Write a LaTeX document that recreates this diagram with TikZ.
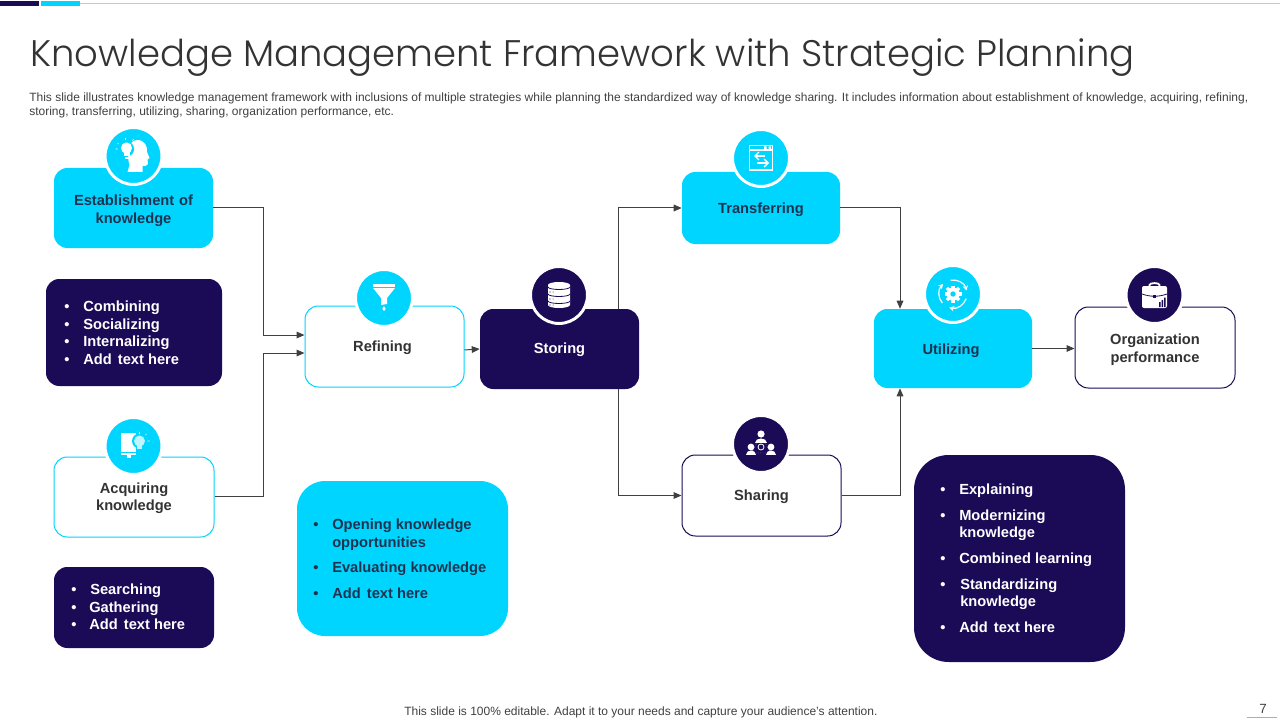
\documentclass[tikz,border=0pt]{standalone}
\usepackage{fontspec}
\setmainfont{Liberation Sans}
\newfontfamily\titlefont{Poppins Light}
\usetikzlibrary{arrows.meta,calc}
\definecolor{cy}{HTML}{00D5FF}
\definecolor{nv}{HTML}{1B0A56}
\definecolor{tx}{HTML}{1F3350}
\definecolor{gt}{HTML}{333333}
\definecolor{ln}{HTML}{404040}
\definecolor{pl}{HTML}{4FD5D5}
\newcommand{\sz}[1]{\fontsize{#1}{#1}\selectfont}
\newcommand{\bl}[1]{\makebox[#1][l]{\textbullet}}
\newcommand{\ad}{Add\hspace{4.6pt}text here}
\newcommand{\up}[1]{\rule{0pt}{#1pt}}
\tikzset{
 x=0.75pt,y=-0.75pt,
 boxbase/.style={rounded corners=#1,inner sep=0,align=center,font=\sz{11}\bfseries},
 cyanbox/.style={boxbase=10pt,fill=cy,text=tx},
 navybox/.style={boxbase=10pt,fill=nv,text=white},
 tealbox/.style={boxbase=10pt,draw=cy,line width=.75pt,fill=white,text=gt},
 inkbox/.style={boxbase=10pt,draw=nv,line width=.75pt,fill=white,text=gt},
 disc/.style={circle,inner sep=0,minimum size=42.7pt,draw=white,line width=2.2pt},
 conn/.style={draw=ln,line width=.75pt,-{Triangle[length=6pt,width=5pt]}},
 li/.style={anchor=base west,inner sep=0,font=\sz{11}\bfseries},
 ic/.style={fill=white,draw=none},
 small/.style={anchor=base west,inner sep=0,text=ln},
}
\newcommand{\bx}[7]{% style,name,x0,y0,x1,y1,text
 \path let \p1=(#3,#4),\p2=(#5,#6) in
 node[#1,minimum width=\x2-\x1,minimum height=\y1-\y2,text width=\x2-\x1] (#2) at ($(#3,#4)!.5!(#5,#6)$) {#7};}
\begin{document}
\begin{tikzpicture}
\useasboundingbox (0,0) rectangle (1280,720);
% top bars
\fill[nv] (0,1) rectangle (39,6);
\fill[cy] (41,1) rectangle (80,6);
\draw[draw=black!22,line width=.75pt] (80,3.5) -- (1280,3.5);
% title and description
\node[anchor=base west,inner sep=0,text=gt,font=\titlefont\sz{27.75}] (title) at (30,67) {Knowledge Management Framework with Strategic Planning};
\node[small,font=\sz{9}] (d1) at (29,102) {This slide illustrates knowledge management framework with inclusions of multiple strategies while planning the standardized way of knowledge sharing. It includes information about establishment of knowledge, acquiring, refining,};
\node[small,font=\sz{9}] (d2) at (29,116) {storing, transferring, utilizing, sharing, organization performance, etc.};
% boxes
\bx{cyanbox}{est}{54}{168}{213}{248}{\up{12}Establishment of\\[2pt]knowledge}
\bx{tealbox}{acq}{54}{457}{214}{537}{\up{12}Acquiring\\[2pt]knowledge\rule[-5pt]{0pt}{5pt}}
\bx{tealbox}{ref}{305}{306}{464}{387}{\hspace*{-3pt}\up{9.5}Refining}
\bx{navybox}{sto}{480}{309}{639}{389}{\up{9.5}Storing}
\bx{cyanbox}{tra}{682}{172}{840}{244}{\up{11}Transferring}
\bx{inkbox}{sha}{682}{455}{841}{536}{\up{9.5}Sharing}
\bx{cyanbox}{uti}{874}{309}{1032}{388}{\hspace*{-3pt}\up{11}Utilizing}
\bx{inkbox}{org}{1075}{307}{1235}{388}{\up{11.5}Organization\\[2pt]performance}
\bx{navybox}{la}{46}{279}{222}{386}{}
\bx{navybox}{lb}{54}{567}{214}{648}{}
\bx{boxbase=21pt,fill=cy}{lc}{297}{481}{508}{636}{}
\bx{boxbase=26pt,fill=nv}{ld}{914}{455}{1125}{662}{}
% connectors
\coordinate (busa) at (263,350);
\coordinate (busb) at (618,350);
\coordinate (busc) at (900,350);
\draw[conn] (est.east) -- (est.east -| busa) |- ([yshift=8.6pt]ref.west);
\draw[conn] ([yshift=.75pt]acq.east) -- ([yshift=.75pt]acq.east -| busa) |- ([yshift=-4.9pt]ref.west);
\draw[conn] ([yshift=-2.6pt]ref.east) -- ([yshift=0pt]sto.west);
\draw[conn] (sto.north -| busb) |- (tra.west);
\draw[conn] (sto.south -| busb) |- ([yshift=0pt]sha.west);
\draw[conn] (tra.east) -| (tra.south -| busc) -- (uti.north -| busc);
\draw[conn] (sha.east) -| (uti.south -| busc);
\draw[conn] (uti.east) -- (uti.east -| org.west);
% discs
\node[disc,fill=cy] (c1) at (133.5,156) {};
\node[disc,fill=cy] (c2) at (133.5,446) {};
\node[disc,fill=cy] (c3) at (384,298) {};
\node[disc,fill=nv] (c4) at (559,295) {};
\node[disc,fill=cy] (c5) at (761,158) {};
\node[disc,fill=nv] (c6) at (761,444) {};
\node[disc,fill=cy] (c7) at (953,294) {};
\node[disc,fill=nv] (c8) at (1154.5,295) {};
% icon: head and bulb
\begin{scope}[shift={(c1.center)}]
 \fill[ic] (-6,16) -- (-4,9) .. controls (-7,0) and (-6,-16) .. (4,-16) .. controls (11,-16) and (14.5,-9) .. (13.5,-4) -- (16,2) -- (14,3.5) -- (14.5,8) .. controls (14,10) and (11,10) .. (9,10) -- (9,16) -- cycle;
 \fill[cy] (-7,-7) circle (7.6);
 \fill[ic] (-7,-8) circle (5.6);
 \fill[ic] (-10,-4) rectangle (-4,0);
 \fill[ic] (-9,1) rectangle (-5,3);
 \draw[white,line width=.5pt] (-16,-13) -- (-15,-12) (-18,-7) -- (-16,-7) (-8,-18) -- (-8,-16) (0,-17) -- (-1,-15);
\end{scope}
% icon: book and bulb
\begin{scope}[shift={(c2.center)}]
 \fill[ic] (-13,-13) rectangle (2,6);
 \fill[ic] (-13,7) rectangle (2,9);
 \fill[ic] (-7,8) rectangle (-3,12);
 \fill[cy] (6,-5) circle (7.5);
 \fill[white!75!cy] (6,-5) circle (5.5);
 \fill[white!75!cy] (3.5,-1) rectangle (8.5,3);
 \draw[white,line width=.5pt] (6,-14) -- (6,-12) (14,-5) -- (16,-5) (12,-11) -- (13,-12);
\end{scope}
% icon: funnel
\begin{scope}[shift={(c3.center)}]
 \fill[ic] (-11,-14) rectangle (11,-11);
 \fill[ic] (-11,-10) -- (11,-10) -- (3,0) -- (3,6) -- (-3,7) -- (-3,0) -- cycle;
 \fill[ic] (0,8) .. controls (2,10) and (2.5,12) .. (0,13) .. controls (-2.5,12) and (-2,10) .. (0,8) -- cycle;
\end{scope}
% icon: database
\begin{scope}[shift={(c4.center)}]
 \fill[ic] (-11,-10) arc[start angle=180,end angle=360,x radius=11,y radius=3] -- (11,10) arc[start angle=0,end angle=180,x radius=11,y radius=3] -- cycle;
 \draw[nv,line width=.6pt] (-11,-8) arc[start angle=180,end angle=0,x radius=11,y radius=2.5]
  (-11,-1) arc[start angle=180,end angle=0,x radius=11,y radius=2.5]
  (-11,6) arc[start angle=180,end angle=0,x radius=11,y radius=2.5];
 \fill[nv] (-9,-3) circle (.6) (-6,-3) circle (.5) (-9,4) circle (.6) (-6,4) circle (.5) (-9,10) circle (.6) (-6,10) circle (.5);
\end{scope}
% icon: window with arrows
\begin{scope}[shift={(c5.center)}]
 \draw[white,line width=1pt] (-11.5,-12.5) rectangle (11.5,12);
 \draw[white,line width=1pt] (-11.5,-8) -- (11.5,-8);
 \fill[ic] (3,-11.5) rectangle (5.5,-9) (7.5,-11.5) rectangle (10,-9);
 \draw[white,line width=1pt,-{Straight Barb[length=3pt,width=6pt]}] (4,-2) -- (-7,-2);
 \draw[white,line width=1pt,-{Straight Barb[length=3pt,width=6pt]}] (-4,5) -- (8,5);
\end{scope}
% icon: people
\begin{scope}[shift={(c6.center)}]
 \fill[ic] (0,-10) circle (3.6);
 \fill[ic] (-6,-1) .. controls (-6,-7) and (6,-7) .. (6,-1) -- cycle;
 \fill[ic] (-10,3) circle (3.4);
 \fill[ic] (-15,11) .. controls (-15,5) and (-5,5) .. (-5,11) -- cycle;
 \fill[ic] (10,3) circle (3.4);
 \fill[ic] (5,11) .. controls (5,5) and (15,5) .. (15,11) -- cycle;
 \draw[white,line width=.6pt] (0,3) circle (3);
 \draw[white,line width=.3pt,densely dotted] (-4,-1) -- (-9,7) (4,-1) -- (9,7) (-6,9) -- (6,9);
\end{scope}
% icon: gear and arrows
\begin{scope}[shift={(c7.center)}]
 \foreach \a in {0,45,...,315}{\fill[ic,rotate=\a] (-1.7,-8.5) rectangle (1.7,-5);}
 \fill[ic] (0,0) circle (6.5);
 \fill[cy] (0,0) circle (2.7);
 \foreach \a in {20,140,260}{
 \draw[white,line width=.9pt,-{Stealth[length=3.5pt,width=4pt]}] (\a:14) arc[start angle=\a,end angle=\a+85,radius=14];}
\end{scope}
% icon: briefcase
\begin{scope}[shift={(c8.center)}]
 \draw[white,line width=1.4pt] (-5,-8) -- (-5,-10) .. controls (-5,-12.5) and (5,-12.5) .. (5,-10) -- (5,-8);
 \fill[ic,rounded corners=1.5pt] (-12.5,-9) rectangle (12.5,13);
 \draw[nv,line width=.6pt] (-12.5,-1) .. controls (-4,2) and (4,2) .. (12.5,-1);
 \fill[nv] (-1.5,0) rectangle (1.5,3);
 \fill[nv] (4.5,7) rectangle (6,12) (7,5) rectangle (8.5,12) (9.5,2.5) rectangle (11,12);
\end{scope}
% list texts
\begin{scope}[every node/.append style={li,text=white}]
\node (a1) at (64,311) {\bl{14.25pt}Combining};
\node (a2) at (64,329) {\bl{14.25pt}Socializing};
\node (a3) at (64,346) {\bl{14.25pt}Internalizing};
\node (a4) at (64,364) {\bl{14.25pt}\ad};
\node (b1) at (71,594) {\bl{14.25pt}Searching};
\node (b2) at (71,612) {\bl{13.5pt}Gathering};
\node (b3) at (71,629) {\bl{13.5pt}\ad};
\node (d1x) at (940,494) {\bl{14.25pt}Explaining};
\node (d2x) at (940,520) {\bl{14.25pt}Modernizing};
\node (d2y) at (959,537) {knowledge};
\node (d3x) at (940,563) {\bl{14.25pt}Combined learning};
\node (d4x) at (940,589) {\bl{15pt}Standardizing};
\node (d4y) at (960,606) {knowledge};
\node (d5x) at (940,632) {\bl{14.25pt}\ad};
\end{scope}
\begin{scope}[every node/.append style={li,text=tx}]
\node (c1x) at (313,529) {\bl{14.25pt}Opening knowledge};
\node (c1y) at (332,547) {opportunities};
\node (c2x) at (313,572) {\bl{14.25pt}Evaluating knowledge};
\node (c3x) at (313,598) {\bl{14.25pt}\ad};
\end{scope}
% footer
\node[small,font=\sz{9}] (foot) at (404,715) {This slide is 100\% editable. Adapt it to your needs and capture your audience's attention.};
\node[small,font=\sz{10}] (pg) at (1259,713) {7};
\draw[draw=pl,line width=.75pt] (1247,717) -- (1277,717);
\end{tikzpicture}
\end{document}
